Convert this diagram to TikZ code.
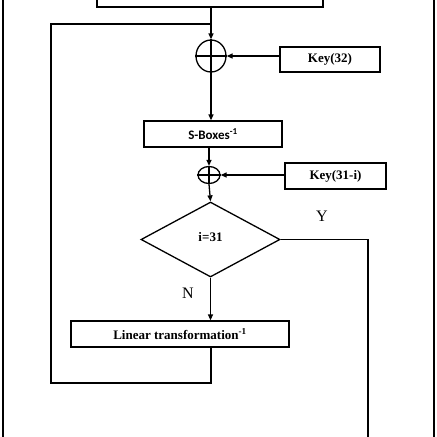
\documentclass[tikz,border=0pt]{standalone}
\usepackage{fontspec}
\setmainfont{Liberation Serif}
\newfontfamily\calfont{Carlito}
\usetikzlibrary{shapes.geometric,arrows.meta}
\begin{document}
\begin{tikzpicture}[x=1pt,y=1pt,
  line width=1.3pt,
  stepbox/.style={draw,inner sep=0pt,font=\fontsize{13}{15}\selectfont\bfseries},
  xorop/.style={draw,ellipse,inner sep=0pt},
  arr/.style={-{Triangle[length=6pt,width=5pt]}},
  lbl/.style={font=\fontsize{16}{18}\selectfont}]
\fill[white] (0,-437) rectangle (437,0);
\useasboundingbox (0,-437) rectangle (437,0);
% page frame
\coordinate (fl1) at (3,0); \coordinate (fl2) at (3,-437);
\coordinate (fr1) at (434,0); \coordinate (fr2) at (434,-437);
\draw (fl1) -- (fl2);
\draw (fr1) -- (fr2);
% nodes
\node[stepbox,minimum width=226pt,minimum height=30pt] (topbox) at (210,8) {};
\node[xorop,minimum width=30pt,minimum height=32pt] (xa) at (211,-56) {};
\draw (xa.north) -- (xa.south) (xa.west) -- (xa.east);
\node[stepbox,minimum width=100pt,minimum height=25pt] (ka) at (330,-59.5) {Key(32)};
\node[stepbox,minimum width=138pt,minimum height=26pt] (sb) at (213,-134) {\calfont S-Boxes\textsuperscript{-1}};
\node[xorop,minimum width=22pt,minimum height=17pt] (xb) at (209,-175) {};
\draw (xb.north) -- (xb.south) (xb.west) -- (xb.east);
\node[stepbox,minimum width=101pt,minimum height=26pt] (kb) at (335.5,-176) {Key(31-i)};
\node[draw,diamond,inner sep=0pt,minimum width=139pt,minimum height=75pt,shape aspect=1.85,font=\fontsize{13}{15}\selectfont\bfseries] (dec) at (210.5,-239.5) {\raisebox{6pt}{i=31}};
\node[stepbox,minimum width=218pt,minimum height=26pt] (lin) at (180,-334) {Linear transformation\textsuperscript{-1}};
\node[lbl] (ylab) at (322,-216) {Y};
\node[lbl] (nlab) at (188,-293) {N};
\coordinate (ca) at (211,-24);
\coordinate (cb) at (51,-24);
\coordinate (cc) at (51,-383);
\coordinate (cd) at (211,-383);
\coordinate (ce) at (368,-239.5);
\coordinate (cf) at (368,-440);
% connectors
\draw[arr] (topbox.south -| xa.north) -- (xa.north);
\draw (ca) -- (cb) -- (cc) -- (cd) -- (lin.south -| cd);
\draw[arr] (ka.west |- xa.east) -- (xa.east);
\draw[arr] (xa.south) -- (xa.south |- sb.north);
\draw[arr] (xb.north |- sb.south) -- (xb.north);
\draw[arr] (kb.west |- xb.east) -- (xb.east);
\draw[arr] (xb.south) -- (dec.north);
\draw (dec.east) -- (ce) -- (cf);
\draw[arr] (dec.south) -- (dec.south |- lin.north);
\end{tikzpicture}
\end{document}
